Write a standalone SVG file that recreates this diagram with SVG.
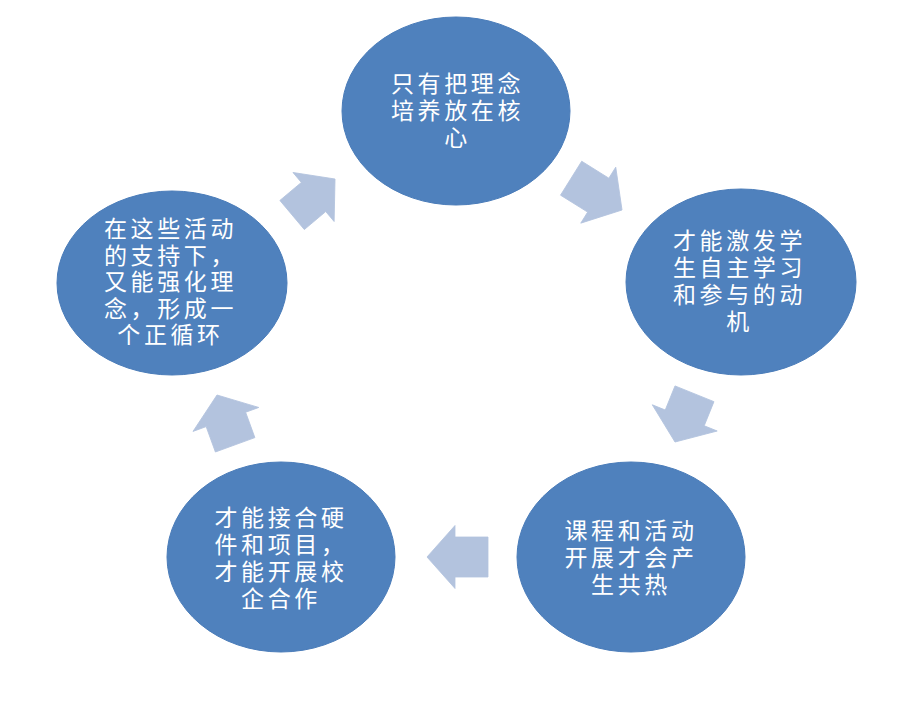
<svg xmlns="http://www.w3.org/2000/svg" width="911" height="719" viewBox="0 0 911 719">
<style>
.node ellipse{fill:#4F81BD;stroke:#4A7CB9;stroke-width:1}
.node text{fill:#FFFFFF;font-family:"Liberation Sans","Noto Sans CJK SC","Noto Sans CJK JP",sans-serif;font-size:23px;letter-spacing:3.6px;text-anchor:middle}
.arrow{fill:#B3C3DE;stroke:#B3C3DE;stroke-width:0.8;stroke-linejoin:miter}
</style>
<rect x="0" y="0" width="911" height="719" fill="#FFFFFF"/>
<g id="connectors">
<path class="arrow" transform="translate(335,179) rotate(-40)" d="M0,0 L-28,-32 L-28,-19 L-56,-19 L-56,19 L-28,19 L-28,32 Z"/>
<path class="arrow" transform="translate(622,210) rotate(32)" d="M0,0 L-28,-33 L-28,-20 L-60,-20 L-60,20 L-28,20 L-28,33 Z"/>
<path class="arrow" transform="translate(675,442) rotate(112)" d="M0,0 L-26,-35 L-26,-21 L-52,-21 L-52,21 L-26,21 L-26,35 Z"/>
<path class="arrow" transform="translate(427,557) rotate(180)" d="M0,0 L-28,-31.5 L-28,-20 L-61,-20 L-61,20 L-28,20 L-28,31.5 Z"/>
<path class="arrow" transform="translate(217,395) rotate(-110)" d="M0,0 L-26,-35 L-26,-21 L-53,-21 L-53,21 L-26,21 L-26,35 Z"/>
</g>
<g id="node-top" class="node">
<ellipse cx="456" cy="111" rx="114" ry="94"/>
<text x="457.5" y="92">只有把理念<tspan x="457.5" dy="27">培养放在核</tspan><tspan x="457.5" dy="27">心</tspan></text>
</g>
<g id="node-right" class="node">
<ellipse cx="741" cy="282" rx="115" ry="93"/>
<text x="739.5" y="249">才能激发学<tspan x="739.5" dy="27">生自主学习</tspan><tspan x="739.5" dy="27">和参与的动</tspan><tspan x="739.5" dy="27">机</tspan></text>
</g>
<g id="node-bottom-right" class="node">
<ellipse cx="631" cy="557" rx="114" ry="95"/>
<text x="631" y="539">课程和活动<tspan x="631" dy="27">开展才会产</tspan><tspan x="631" dy="27">生共热</tspan></text>
</g>
<g id="node-bottom-left" class="node">
<ellipse cx="281" cy="557" rx="114" ry="95"/>
<text x="281" y="526">才能接合硬<tspan x="281" dy="27">件和项目，</tspan><tspan x="281" dy="27">才能开展校</tspan><tspan x="281" dy="27">企合作</tspan></text>
</g>
<g id="node-left" class="node">
<ellipse cx="172" cy="283" rx="115" ry="92"/>
<text x="170.5" y="237">在这些活动<tspan x="170.5" dy="26.5">的支持下，</tspan><tspan x="170.5" dy="26.5">又能强化理</tspan><tspan x="170.5" dy="26.5">念，形成一</tspan><tspan x="170.5" dy="26.5">个正循环</tspan></text>
</g>
</svg>
